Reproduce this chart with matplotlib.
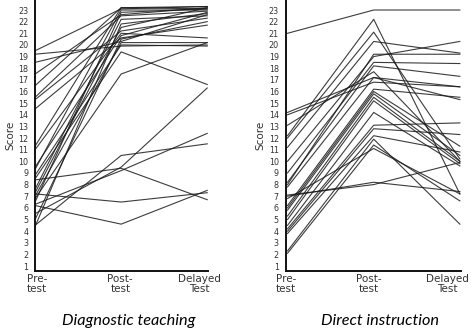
import matplotlib
matplotlib.use("Agg")
import matplotlib.pyplot as plt

# test occasions
phases = ["Pre-\ntest", "Post-\ntest", "Delayed\nTest"]

# scores per student: pre, post, delayed
diagnostic_pre = [19.5, 19.2, 18.5, 17.5, 16.5, 15.5, 15.3, 14.5, 11.3, 11.0, 9.5, 9.3, 8.8, 8.5,
                  8.4, 7.6, 7.3, 7.2, 7.0, 6.8, 6.5, 6.3, 6.2, 5.5, 5.0, 4.5, 4.4]
diagnostic_post = [23.1, 19.9, 20.3, 22.6, 23.2, 22.5, 21.2, 20.6, 23.2, 21.0, 20.8, 23.0, 20.0, 19.4,
                   9.4, 22.2, 21.5, 6.5, 20.2, 17.5, 22.8, 9.2, 4.6, 9.5, 20.5, 10.5, 21.8]
diagnostic_delayed = [23.3, 20.0, 22.6, 23.2, 23.1, 22.9, 22.3, 21.7, 23.3, 20.6, 22.8, 23.0, 19.9, 16.6,
                      6.7, 22.5, 23.2, 7.3, 20.2, 20.2, 23.1, 12.4, 7.5, 16.3, 22.0, 11.5, 22.7]

direct_pre = [21.0, 14.2, 14.0, 13.1, 12.2, 12.0, 11.2, 10.0, 9.0, 8.2, 7.8, 7.0, 7.1, 6.2, 6.0,
              5.8, 5.3, 5.0, 4.5, 4.2, 4.0, 3.8, 2.3, 2.1, 6.8, 8.0]
direct_post = [23.0, 17.2, 16.8, 17.7, 22.2, 21.1, 20.3, 19.0, 18.5, 18.2, 17.2, 8.2, 8.0, 16.2, 16.0,
               15.8, 15.5, 15.2, 14.2, 13.1, 12.8, 12.2, 11.9, 11.4, 11.1, 19.2]
direct_delayed = [23.0, 15.3, 16.4, 10.0, 7.2, 10.2, 19.3, 20.3, 18.4, 17.3, 16.4, 7.4, 9.9, 15.5, 11.3,
                  10.5, 10.0, 9.8, 9.6, 13.3, 12.3, 10.8, 4.6, 6.6, 7.2, 19.2]

panels = [
    ("Diagnostic teaching", diagnostic_pre, diagnostic_post, diagnostic_delayed,
     [0.074, 0.174, 0.365, 0.826], [0.02, 0.99, 1.91], 0.54),
    ("Direct instruction", direct_pre, direct_post, direct_delayed,
     [0.603, 0.174, 0.369, 0.826], [-0.02, 0.94, 1.86], 0.54),
]

fig = plt.figure(figsize=(4.74, 3.28), dpi=100)

for title, pre, post, delayed, rect, label_x, title_x in panels:
    ax = fig.add_axes(rect)
    for a, b, c in zip(pre, post, delayed):
        ax.plot([0, 1, 2], [a, b, c], color="#1a1a1a", lw=0.8, alpha=0.85)
    ax.set_xlim(0, 2.01)
    ax.set_ylim(0.58, 23.86)
    ax.set_yticks(range(1, 24))
    # the phase labels sit a little left of the line ends in the original
    ax.set_xticks(label_x)
    ax.set_xticklabels(phases, fontsize=7.5, color="#333333", linespacing=1.0)
    ax.tick_params(axis="y", length=0, labelsize=5.8, labelcolor="#333333", pad=5)
    ax.tick_params(axis="x", length=0, pad=2)
    for s in ["top", "right"]:
        ax.spines[s].set_visible(False)
    for s in ["left", "bottom"]:
        ax.spines[s].set_linewidth(1.4)
        ax.spines[s].set_color("#111111")
    ax.set_ylabel("Score", fontsize=7.5, color="#333333", labelpad=2)
    ax.text(title_x, -0.185, title, transform=ax.transAxes,
            ha="center", va="center", fontsize=11.7, style="italic", family="Lato")

fig.savefig("out.png", dpi=100)
